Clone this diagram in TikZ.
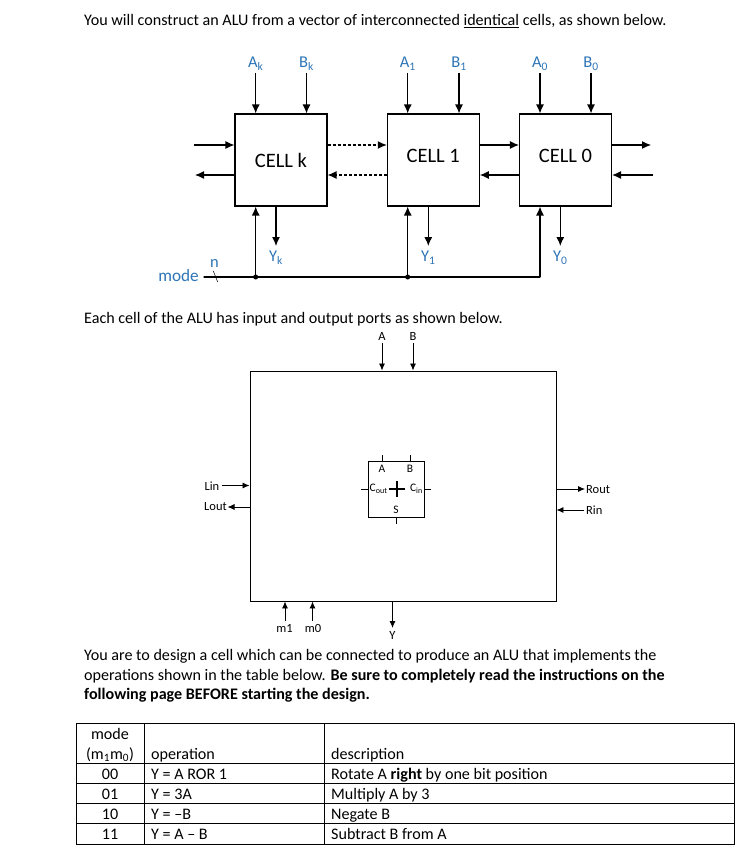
\documentclass[tikz,border=0pt]{standalone}
\usepackage{fontspec}
\setmainfont{Carlito}
\usetikzlibrary{arrows.meta}
\definecolor{lblue}{HTML}{2E75B6}
\newcommand{\fs}[1]{\fontsize{#1}{#1}\selectfont}
\tikzset{
  x=1pt,y=-1pt,
  txt/.style={anchor=base west,inner sep=0pt,font=\fs{16.1}},
  cell/.style={draw,line width=1.1pt,minimum width=92pt,minimum height=92pt,inner sep=0pt},
  celltxt/.style={inner sep=0pt,font=\fs{20.5}},
  blu/.style={inner sep=0pt,text=lblue,font=\fs{16.5}},
  arr/.style={line width=1.15pt,-{Latex[length=9pt,width=8pt]}},
  dasharr/.style={arr,densely dashed},
  bus/.style={line width=1.15pt},
  dot/.style={circle,fill,inner sep=0pt,minimum size=5pt},
  thinarr/.style={line width=.85pt,-{Latex[length=7pt,width=6pt]}},
  sm/.style={inner sep=0pt,font=\fs{12.5}},
  tiny/.style={inner sep=0pt,font=\fs{11.5}},
  tcell/.style={anchor=base west,inner sep=0pt,font=\fs{16.1}},
  tmid/.style={anchor=base,inner sep=0pt,font=\fs{16.1}},
  rule/.style={line width=.9pt},
}
\begin{document}
\begin{tikzpicture}
\useasboundingbox[fill=white] (0,0) rectangle (752,850);
% text
\node[txt] (t1) at (84,26) {You will construct an ALU from a vector of interconnected \underline{identical} cells, as shown below.};
\node[txt] (t2) at (84,323) {Each cell of the ALU has input and output ports as shown below.};
\node[txt] (t3) at (84,660) {You are to design a cell which can be connected to produce an ALU that implements the};
\node[txt] (t4) at (84,680) {operations shown in the table below. \textbf{Be sure to completely read the instructions on the}};
\node[txt] (t5) at (84,699) {\textbf{following page BEFORE starting the design.}};
% cells
\node[cell] (ck) at (281,160) {};
\node[cell] (c1) at (433.3,160) {};
\node[cell] (c0) at (565.5,160) {};
\node[celltxt] (lk) at (281,160) {CELL k};
\node[celltxt] (l1) at (433.3,155.5) {CELL 1};
\node[celltxt] (l0) at (565.5,155.5) {CELL 0};
% input labels
\node[blu] (ak) at (255.7,64) {A\textsubscript{k}};
\node[blu] (bk) at (306.5,64) {B\textsubscript{k}};
\node[blu] (a1) at (407.7,64) {A\textsubscript{1}};
\node[blu] (b1) at (459,64) {B\textsubscript{1}};
\node[blu] (a0) at (540,64) {A\textsubscript{0}};
\node[blu] (b0) at (591,64) {B\textsubscript{0}};
\coordinate (sak) at (255.7,73);
\coordinate (sbk) at (306.5,73);
\coordinate (sa1) at (407.7,73);
\coordinate (sb1) at (459,73);
\coordinate (sa0) at (540,73);
\coordinate (sb0) at (591,73);
\foreach \n/\c in {ak/ck,bk/ck,a1/c1,b1/c1,a0/c0,b0/c0}
  \draw[arr] (s\n) -- (s\n |- \c.north);
% output labels
\node[blu] (yk) at (276,258) {Y\textsubscript{k}};
\node[blu] (y1) at (428.3,258) {Y\textsubscript{1}};
\node[blu] (y0) at (560.3,258) {Y\textsubscript{0}};
\coordinate (ykt) at (276,206);
\coordinate (y1t) at (428.3,206);
\coordinate (y0t) at (560.3,206);
\coordinate (yke) at (276,246);
\coordinate (y1e) at (428.3,246);
\coordinate (y0e) at (560.3,246);
\draw[arr] (ykt) -- (yke);
\draw[arr] (y1t) -- (y1e);
\draw[arr] (y0t) -- (y0e);
% horizontal links
\coordinate (lin) at (194,145);
\coordinate (lout) at (195,175);
\coordinate (rout) at (651,145);
\coordinate (rin) at (653,175);
\draw[arr] (lin) -- (lin -| ck.west);
\draw[arr] (ck.west |- lout) -- (lout);
\draw[dasharr] (ck.east |- lin) -- (c1.west |- lin);
\draw[dasharr] (c1.west |- lout) -- (ck.east |- lout);
\draw[arr] (c1.east |- lin) -- (c0.west |- lin);
\draw[arr] (c0.west |- lout) -- (c1.east |- lout);
\draw[arr] (c0.east |- rout) -- (rout);
\draw[arr] (rin) -- (c0.east |- rin);
% mode bus
\node[blu,font=\fs{17.2}] (mode) at (178.5,276) {mode};
\node[blu] (nn) at (214.5,263) {n};
\coordinate (bs) at (204,277);
\coordinate (bk0) at (255.7,277);
\coordinate (b10) at (407.7,277);
\coordinate (b00) at (540,277);
\draw[bus,line cap=round] (bs) -- (b00);
\draw[arr] (b00) -- (b00 |- c0.south);
\draw[arr] (b10) -- (b10 |- c1.south);
\draw[arr] (bk0) -- (bk0 |- ck.south);
\node[dot] (d1) at (bk0) {};
\node[dot] (d2) at (b10) {};
\coordinate (sl1) at (213.3,271);
\coordinate (sl2) at (217.7,282);
\draw[line width=.5pt] (sl1) -- (sl2);
% big cell
\node[draw,line width=.9pt,minimum width=306pt,minimum height=230pt,inner sep=0pt] (big) at (403,486) {};
\node[sm] (pa) at (382,336) {A};
\node[sm] (pb) at (413,336) {B};
\coordinate (pas) at (382,343);
\coordinate (pbs) at (413,343);
\draw[thinarr] (pas) -- (pas |- big.north);
\draw[thinarr] (pbs) -- (pbs |- big.north);
\node[sm,anchor=east] (plin) at (219.5,486) {Lin};
\node[sm,anchor=east] (plout) at (227,506.5) {Lout};
\node[sm,anchor=west] (prout) at (586,489.5) {Rout};
\node[sm,anchor=west] (prin) at (586,510) {Rin};
\coordinate (cl) at (222,485.5);
\coordinate (co) at (227.5,507);
\coordinate (cr) at (585,489);
\coordinate (cn) at (584,510);
\draw[thinarr] (cl) -- (cl -| big.west);
\draw[thinarr] (big.west |- co) -- (co);
\draw[thinarr] (big.east |- cr) -- (cr);
\draw[thinarr] (cn) -- (cn -| big.east);
\node[sm] (pm1) at (284.5,628) {m1};
\node[sm] (pm0) at (313,628) {m0};
\node[sm] (py) at (392.5,635) {Y};
\coordinate (m1e) at (285,621);
\coordinate (m0e) at (312.5,621);
\coordinate (ye) at (392.5,628);
\draw[thinarr] (m1e) -- (m1e |- big.south);
\draw[thinarr] (m0e) -- (m0e |- big.south);
\draw[thinarr] (ye |- big.south) -- (ye);
% adder
\node[draw,line width=.9pt,minimum width=56pt,minimum height=56pt,inner sep=0pt] (add) at (396,489) {};
\node[tiny] (aa) at (382,468.5) {A};
\node[tiny] (ab) at (410,468.5) {B};
\node[tiny] (as) at (396,509.5) {S};
\node[tiny,anchor=west] (ac) at (369.5,489) {C\textsubscript{out}};
\node[tiny,anchor=east] (ai) at (423,489) {C\textsubscript{in}};
\draw[line width=.8pt] (aa |- add.north) -- ++(0,-6);
\draw[line width=.8pt] (ab |- add.north) -- ++(0,-6);
\draw[line width=.8pt] (as |- add.south) -- ++(0,7);
\draw[line width=.8pt] (add.west) -- ++(-7,0);
\draw[line width=.8pt] (add.east) -- ++(7,0);
\coordinate (pc) at (397,489);
\draw[line width=1.2pt] ([xshift=-8pt]pc) -- ([xshift=8pt]pc) ([yshift=-8pt]pc) -- ([yshift=8pt]pc);
% table
\draw[rule] (76,723) rectangle (734,844);
\draw[rule] (76,763.5) -- (734,763.5) (76,783.5) -- (734,783.5) (76,803.5) -- (734,803.5) (76,823.5) -- (734,823.5);
\draw[rule] (144.5,723) -- (144.5,844) (324.5,723) -- (324.5,844);
\node[tmid] (h1) at (110,739) {mode};
\node[tmid] (h2) at (110,759) {(m\textsubscript{1}m\textsubscript{0})};
\node[tcell] (h3) at (151,759) {operation};
\node[tcell] (h4) at (331,759) {description};
\node[tmid] (r1a) at (110,779) {00};
\node[tcell] (r1b) at (151,779) {Y = A ROR 1};
\node[tcell] (r1c) at (331,779) {Rotate A \textbf{right} by one bit position};
\node[tmid] (r2a) at (110,799) {01};
\node[tcell] (r2b) at (151,799) {Y = 3A};
\node[tcell] (r2c) at (331,799) {Multiply A by 3};
\node[tmid] (r3a) at (110,819) {10};
\node[tcell] (r3b) at (151,819) {Y = –B};
\node[tcell] (r3c) at (331,819) {Negate B};
\node[tmid] (r4a) at (110,839) {11};
\node[tcell] (r4b) at (151,839) {Y = A – B};
\node[tcell] (r4c) at (331,839) {Subtract B from A};
\end{tikzpicture}
\end{document}
